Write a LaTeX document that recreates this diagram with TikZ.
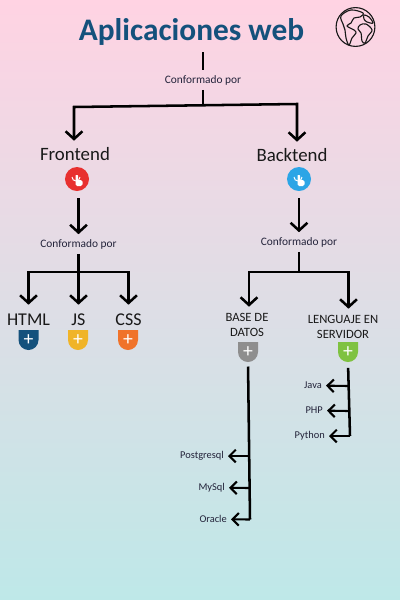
\documentclass[tikz,border=0pt]{standalone}
\usepackage{fontspec}
\setmainfont{Carlito}
\usepackage{xcolor}
\usepackage{tikz}
\usetikzlibrary{arrows.meta}
\definecolor{rosa}{HTML}{FFD3E3}
\definecolor{turquesa}{HTML}{BEE8E8}
\definecolor{azultitulo}{HTML}{14517C}
\definecolor{tinta}{HTML}{23233A}
\tikzset{
  linea/.style={line width=1.8pt, black},
  flecha/.style={linea, -{Straight Barb[length=5.5pt,width=12pt,line width=1.8pt]}},
  dobleflecha/.style={linea, {Straight Barb[length=5.5pt,width=12pt,line width=1.8pt]}-{Straight Barb[length=5.5pt,width=12pt,line width=1.8pt]}},
  lateral/.style={line width=1.5pt, black, -{Straight Barb[length=4.5pt,width=9pt,line width=1.5pt]}},
  conforma/.style={inner sep=0pt, minimum height=0.475cm, font=\fontsize{8.1}{10}\selectfont, text=tinta},
  tema/.style={inner sep=0pt, minimum height=0.65cm, font=\fontsize{13.4}{15}\selectfont, text=black!90},
  lenguaje/.style={inner sep=0pt, minimum height=0.75cm, font=\fontsize{12.8}{15}\selectfont, text=black!90},
  grupo/.style={inner sep=0pt, minimum height=0.9cm, align=center, font=\fontsize{9}{10.4}\selectfont, text=black!90},
  rotulo/.style={anchor=east, inner xsep=2.8pt, inner ysep=0pt, font=\fontsize{7.4}{9}\selectfont, text=tinta},
  boton/.style={circle, inner sep=0pt, minimum size=0.6cm},
  escudo/.style={inner sep=0pt, minimum size=0.5cm, text=white, font=\fontsize{14}{14}\selectfont},
  mundo/.style={line width=0.8pt, draw=black!90, line join=round}
}
\begin{document}
\begin{tikzpicture}[x=0.025cm, y=-0.025cm]
  % Background
  \useasboundingbox (0,0) rectangle (400,600);
  \shade[top color=rosa, bottom color=turquesa] (0,0) rectangle (400,600);

  % Title and globe
  \node[inner sep=0pt, text=azultitulo, font=\fontsize{22.3}{24}\selectfont\bfseries] (titulo) at (191.5,32) {Aplicaciones web};
  \node[circle, draw=black!90, line width=0.8pt, inner sep=0pt, minimum size=0.97cm] (globo) at (355.5,27) {};
  \draw[mundo] plot[smooth cycle, tension=0.6] coordinates {(341,16) (351,10) (363,13) (360,17) (354,18) (351,23) (347,26) (354,30) (356,33) (352,38) (349,45) (346,38) (345,30) (343,24)};
  \draw[mundo] plot[smooth cycle, tension=0.6] coordinates {(360,25) (366,24) (372,30) (368,36) (365,43) (362,41) (361,33) (358,29)};
  \draw[mundo] plot[smooth cycle, tension=0.6] coordinates {(364,15) (369,17) (373,23) (367,22) (364,19)};

  % First level
  \coordinate (inicio) at (203,52);
  \node[conforma] (conf1) at (203,80) {Conformado por};
  \coordinate (union1) at (203,105);
  \coordinate (ramaF) at (74,107);
  \coordinate (ramaB) at (297,104);
  \node[tema] (frontend) at (75,154) {Frontend};
  \node[tema] (backtend) at (292,155) {Backtend};
  \draw[linea] (inicio) -- (conf1);
  \draw[linea] (conf1) -- (union1);
  \draw[dobleflecha] (ramaF |- frontend.north) -- (ramaF) -- (ramaB) -- (ramaB |- backtend.north);

  % Red and blue buttons
  \foreach \x/\y/\col/\n in {77/179/E8302F/botonF, 299/179/2CA5E6/botonB} {
    \definecolor{tono}{HTML}{\col}
    \node[boton, fill=tono] (\n) at (\x,\y) {};
    \draw[white, line width=0.7pt] (\x-5,\y-2) arc[start angle=180, end angle=360, x radius=4, y radius=-4];
    \fill[white, rounded corners=0.5pt] (\x-1.5,\y-4) rectangle (\x+1,\y+2);
    \fill[white, rounded corners=1.2pt] (\x-1.5,\y+1) rectangle (\x+5.5,\y+7);
  }

  % Frontend branch
  \node[conforma] (conf2) at (78.5,244) {Conformado por};
  \coordinate (union2) at (78.5,272);
  \coordinate (ramaH) at (28.5,272);
  \coordinate (ramaC) at (128.5,272);
  \node[lenguaje] (html) at (28.5,320) {HTML};
  \node[lenguaje] (js) at (78.5,320) {JS};
  \node[lenguaje] (css) at (128.5,320) {CSS};
  \draw[flecha, shorten <=5pt] (botonF.south -| conf2) -- (conf2);
  \draw[linea] (conf2) -- (union2);
  \draw[dobleflecha] (html) -- (ramaH) -- (ramaC) -- (css);
  \draw[flecha] (union2) -- (js);

  % Backend branch
  \node[conforma] (conf3) at (299,242) {Conformado por};
  \coordinate (union3) at (299,272);
  \coordinate (ramaD) at (249,272);
  \coordinate (ramaL) at (348.5,272);
  \node[grupo] (datos) at (247,325) {BASE DE\\DATOS};
  \node[grupo] (servidor) at (343,327) {LENGUAJE EN\\SERVIDOR};
  \draw[flecha, shorten <=5pt] (botonB) -- (conf3);
  \draw[linea] (conf3) -- (union3);
  \draw[dobleflecha] (ramaD |- datos.north) -- (ramaD) -- (ramaL) -- (ramaL |- servidor.north);

  % Shields
  \foreach \x/\y/\col/\n in {28.5/340/14517C/escH, 78/340/F0B428/escJ, 128/340/F0732A/escC, 248/352/8E8E8E/escD, 348/352/7FC241/escL} {
    \definecolor{tono}{HTML}{\col}
    \fill[tono] (\x-10,\y-10) -- (\x+10,\y-10) -- (\x+10,\y) arc[start angle=0, end angle=180, radius=10] -- cycle;
    \node[escudo] (\n) at (\x,\y) {+};
  }

  % Server languages
  \coordinate (codoJ) at (349.5,386);
  \coordinate (codoP) at (349.5,411);
  \coordinate (codoY) at (350,436);
  \node[rotulo] (java) at (326,385.5) {Java};
  \node[rotulo] (php) at (327,410.5) {PHP};
  \node[rotulo] (python) at (329,436) {Python};
  \draw[linea, shorten <=4pt] (escL.south) -- (codoY);
  \draw[lateral] (codoY) -- (python);
  \draw[lateral] (codoJ) -- (java);
  \draw[lateral] (codoP) -- (php);

  % Databases
  \coordinate (codoG) at (249,456);
  \coordinate (codoM) at (249.5,488);
  \coordinate (codoO) at (250,519.5);
  \node[rotulo] (postgresql) at (228,456) {Postgresql};
  \node[rotulo] (mysql) at (229,487.5) {MySql};
  \node[rotulo] (oracle) at (231,519) {Oracle};
  \draw[linea, shorten <=3pt] (escD.south) -- (codoO);
  \draw[lateral] (codoO) -- (oracle);
  \draw[lateral] (codoG) -- (postgresql);
  \draw[lateral] (codoM) -- (mysql);
\end{tikzpicture}
\end{document}
